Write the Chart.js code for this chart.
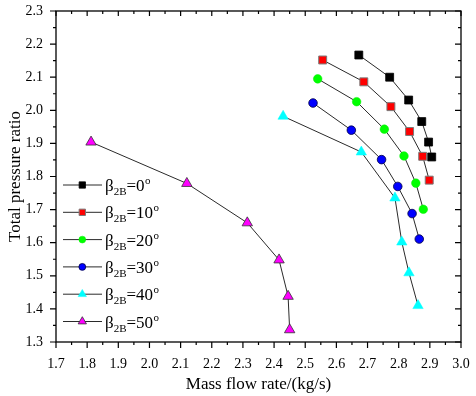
<!DOCTYPE html>
<html>
<head>
<meta charset="utf-8">
<script src="https://cdn.jsdelivr.net/npm/chart.js@4/dist/chart.umd.min.js"></script>
<style>
  html, body { margin: 0; padding: 0; background: #fff; }
  #wrap { width: 476px; height: 396px; position: relative; }
</style>
</head>
<body>
<div id="wrap"><canvas id="c" width="476" height="396"></canvas></div>
<script>
// ---- data ----
const angleLabels = ['0', '10', '20', '30', '40', '50'];

const flow0  = [2.672, 2.771, 2.832, 2.874, 2.896, 2.906];
const ratio0 = [2.167, 2.100, 2.031, 1.966, 1.904, 1.859];

const flow10  = [2.556, 2.688, 2.775, 2.835, 2.877, 2.898];
const ratio10 = [2.152, 2.086, 2.011, 1.936, 1.861, 1.789];

const flow20  = [2.540, 2.665, 2.754, 2.817, 2.855, 2.879];
const ratio20 = [2.095, 2.026, 1.943, 1.862, 1.780, 1.701];

const flow30  = [2.525, 2.648, 2.745, 2.797, 2.843, 2.866];
const ratio30 = [2.022, 1.940, 1.851, 1.770, 1.688, 1.611];

const flow40  = [2.429, 2.680, 2.788, 2.810, 2.833, 2.862];
const ratio40 = [1.982, 1.874, 1.735, 1.602, 1.509, 1.410];

const flow50  = [1.8125, 2.120, 2.314, 2.416, 2.445, 2.450];
const ratio50 = [1.904, 1.779, 1.660, 1.548, 1.438, 1.337];

const xTickMin = 1.7, xTickMax = 3.0, xStep = 0.1;
const yTickMin = 1.3, yTickMax = 2.3, yStep = 0.1;

const xTitle = 'Mass flow rate/(kg/s)';
const yTitle = 'Total pressure ratio';

// ---- styles ----
const seriesStyles = [
  { fill: '#000000', border: '#000000', bw: 0.8, shape: 'rect',     r: 5.6 },
  { fill: '#ff0000', border: '#7a7a7a', bw: 1.0, shape: 'rect',     r: 5.6 },
  { fill: '#00ff00', border: '#00ee00', bw: 0.5, shape: 'circle',   r: 4.3 },
  { fill: '#0000ff', border: '#000044', bw: 0.8, shape: 'circle',   r: 4.3 },
  { fill: '#00ffff', border: '#00ffff', bw: 0.5, shape: 'triangle', r: 6.0 },
  { fill: '#ff00ff', border: '#333333', bw: 0.8, shape: 'triangle', r: 6.0 }
];

const flows  = [flow0, flow10, flow20, flow30, flow40, flow50];
const ratios = [ratio0, ratio10, ratio20, ratio30, ratio40, ratio50];

function pts(xs, ys) { return xs.map((x, i) => ({ x: x, y: ys[i] })); }

const datasets = flows.map((xs, k) => {
  const s = seriesStyles[k];
  return {
    label: 'β2B=' + angleLabels[k] + '°',
    data: pts(xs, ratios[k]),
    showLine: true,
    borderColor: '#2a2a2a',
    borderWidth: 1,
    pointStyle: s.shape,
    pointRadius: s.r,
    pointHoverRadius: s.r,
    pointBackgroundColor: s.fill,
    pointBorderColor: s.border,
    pointBorderWidth: s.bw,
    tension: 0
  };
});

function minors(arr) {
  const out = [];
  for (let i = 0; i < arr.length - 1; i++) out.push((arr[i] + arr[i + 1]) / 2);
  return out;
}

function drawFrame(chart) {
  const ctx = chart.ctx;
  const a = chart.chartArea;
  const xs = chart.scales.x, ys = chart.scales.y;
  const majX = xs.ticks.map(t => t.value);
  const majY = ys.ticks.map(t => t.value);
  ctx.save();
  ctx.setLineDash([]);
  ctx.globalAlpha = 1;
  ctx.strokeStyle = '#000000';
  ctx.lineWidth = 1.3;
  ctx.strokeRect(a.left, a.top, a.right - a.left, a.bottom - a.top);
  ctx.lineWidth = 1.2;
  ctx.beginPath();
  majX.forEach(v => {
    const p = xs.getPixelForValue(v);
    ctx.moveTo(p, a.bottom); ctx.lineTo(p, a.bottom + 6);
    ctx.moveTo(p, a.top); ctx.lineTo(p, a.top + 5);
  });
  minors(majX).forEach(v => {
    const p = xs.getPixelForValue(v);
    ctx.moveTo(p, a.bottom); ctx.lineTo(p, a.bottom + 3);
    ctx.moveTo(p, a.top); ctx.lineTo(p, a.top + 3);
  });
  majY.forEach(v => {
    const p = ys.getPixelForValue(v);
    ctx.moveTo(a.left, p); ctx.lineTo(a.left - 6, p);
    ctx.moveTo(a.right, p); ctx.lineTo(a.right - 6, p);
  });
  minors(majY).forEach(v => {
    const p = ys.getPixelForValue(v);
    ctx.moveTo(a.left, p); ctx.lineTo(a.left - 3, p);
    ctx.moveTo(a.right, p); ctx.lineTo(a.right - 3, p);
  });
  ctx.stroke();
  ctx.restore();
}

function drawLegend(chart) {
  const ctx = chart.ctx;
  const a = chart.chartArea;
  const n = chart.data.datasets.length;
  ctx.save();
  ctx.setLineDash([]);
  ctx.globalAlpha = 1;
  chart.data.datasets.forEach((ds, k) => {
    const y = a.bottom - 20.5 - (n - 1 - k) * 27.3;
    const x0 = a.left + 7, x1 = a.left + 46, xm = a.left + 26.3;
    ctx.strokeStyle = '#2a2a2a';
    ctx.lineWidth = 1;
    ctx.beginPath(); ctx.moveTo(x0, y); ctx.lineTo(x1, y); ctx.stroke();
    const s = seriesStyles[k];
    ctx.fillStyle = s.fill;
    ctx.strokeStyle = s.border;
    ctx.lineWidth = s.bw;
    Chart.helpers.drawPoint(ctx, { pointStyle: s.shape, radius: s.r * 0.8, borderWidth: s.bw }, xm, y);
    let tx = a.left + 49;
    ctx.fillStyle = '#000';
    ctx.textBaseline = 'alphabetic';
    ctx.textAlign = 'left';
    const base = y + 6;
    ctx.font = '17px "Liberation Serif", "Times New Roman", serif';
    ctx.fillText('β', tx, base); tx += ctx.measureText('β').width;
    ctx.font = '11px "Liberation Serif", "Times New Roman", serif';
    ctx.fillText('2B', tx, base + 4); tx += ctx.measureText('2B').width;
    ctx.font = '17px "Liberation Serif", "Times New Roman", serif';
    const mid = '=' + angleLabels[k];
    ctx.fillText(mid, tx, base); tx += ctx.measureText(mid).width;
    ctx.font = '11px "Liberation Serif", "Times New Roman", serif';
    ctx.fillText('o', tx + 0.5, base - 7);
  });
  ctx.restore();
}

const overlayPlugin = {
  id: 'originOverlay',
  afterDraw(chart) {
    drawFrame(chart);
    drawLegend(chart);
  }
};

function noPad(s) { s.paddingTop = 0; s.paddingBottom = 0; s.paddingLeft = 0; s.paddingRight = 0; }

const fontFam = '"Liberation Serif", "Times New Roman", serif';

new Chart(document.getElementById('c'), {
  type: 'scatter',
  data: { datasets: datasets },
  plugins: [overlayPlugin],
  options: {
    responsive: false,
    animation: false,
    devicePixelRatio: 1,
    layout: { padding: { top: 11, right: 15, left: 0, bottom: 0 } },
    plugins: { legend: { display: false }, tooltip: { enabled: false } },
    scales: {
      x: {
        type: 'linear', min: xTickMin, max: xTickMax,
        grid: { display: false, drawTicks: false }, border: { display: false },
        ticks: { stepSize: xStep, padding: 14, color: '#000', font: { family: fontFam, size: 14 }, callback: v => Number(v).toFixed(1) },
        title: { display: true, text: xTitle, color: '#000', font: { family: fontFam, size: 17 }, padding: { top: 0, bottom: 1 } },
        afterFit: s => { s.height = 54; noPad(s); }
      },
      y: {
        type: 'linear', min: yTickMin, max: yTickMax,
        grid: { display: false, drawTicks: false }, border: { display: false },
        ticks: { stepSize: yStep, padding: 13, color: '#000', font: { family: fontFam, size: 14 }, callback: v => Number(v).toFixed(1) },
        title: { display: true, text: yTitle, color: '#000', font: { family: fontFam, size: 17 }, padding: { top: 5, bottom: 0 } },
        afterFit: s => { s.width = 56; noPad(s); }
      }
    }
  }
});
</script>
</body>
</html>
